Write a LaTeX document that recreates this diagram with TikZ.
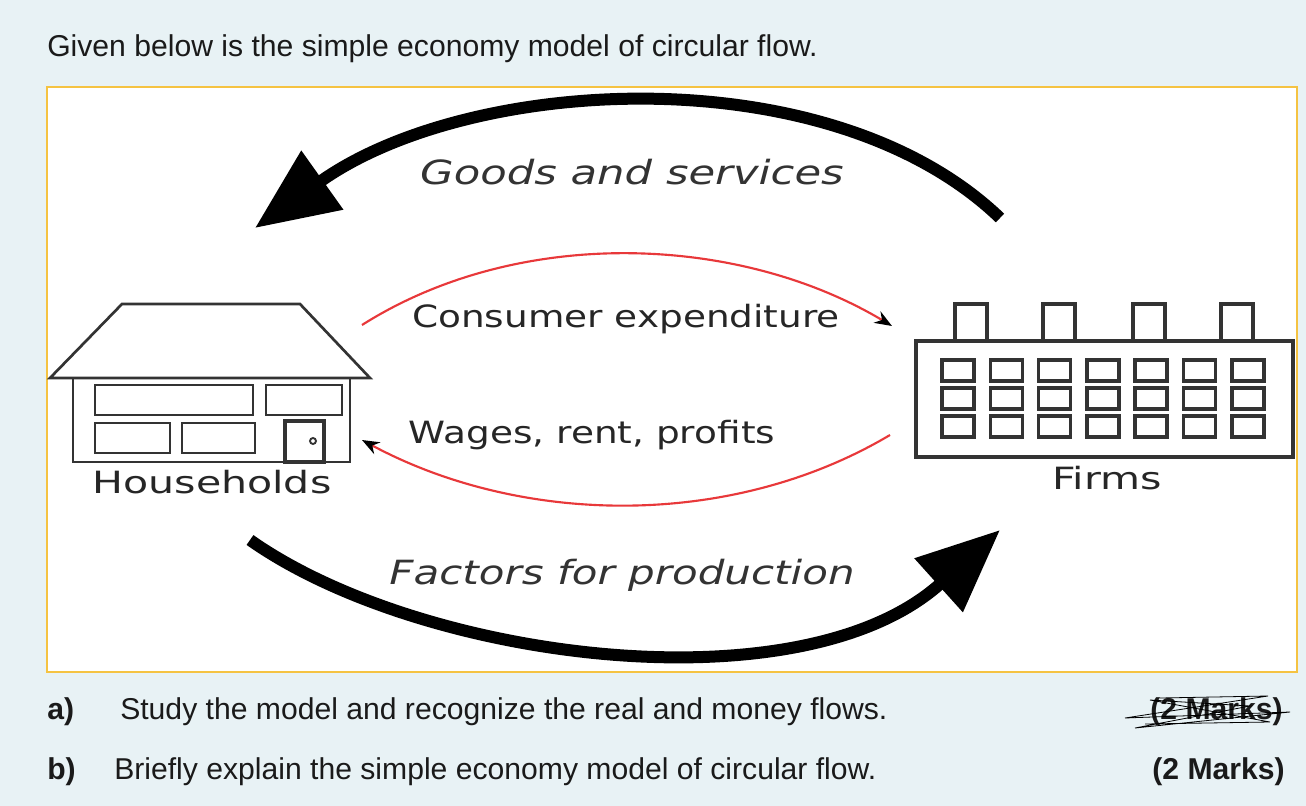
\documentclass[tikz,border=0pt]{standalone}
\usepackage{fontspec}
\setmainfont{Liberation Sans}
\newfontfamily\djfont{DejaVu Sans}
\usetikzlibrary{arrows.meta}
\definecolor{bgc}{HTML}{E8F2F5}
\definecolor{frm}{HTML}{F5C342}
\definecolor{rl}{HTML}{E8383A}
\definecolor{txt}{HTML}{1A1A1A}
\begin{document}
\begin{tikzpicture}[x=0.75pt,y=-0.75pt,
  ln/.style={line width=2pt,black!80},
  lbl/.style={font=\djfont\fontsize{23}{26}\selectfont,text=black!85,inner sep=0pt},
  ilbl/.style={font=\djfont\itshape\fontsize{25}{28}\selectfont,text=black!80,inner sep=0pt},
  big/.style={line width=9pt,-{Triangle[length=62pt,width=52pt]}},
  red/.style={rl,line width=1.6pt,-{Stealth[length=13pt,width=10pt,black]}},
  qt/.style={font=\fontsize{22.6}{26}\selectfont,text=txt,anchor=base west,inner sep=0pt},
  qb/.style={font=\bfseries\fontsize{22.6}{26}\selectfont,text=txt,anchor=base west,inner sep=0pt}]
\fill[bgc] (0,0) rectangle (1306,806);
\useasboundingbox (0,0) rectangle (1306,806);
\draw[frm,fill=white,line width=1pt] (47,87) rectangle (1297,672);
\node[qt] (hdr) at (47,57) {Given below is the simple economy model of circular flow.};
% house
\draw[ln] (122,304) -- (300,304) -- (370,378) -- (50,378) -- cycle;
\draw[ln] (73,378) rectangle (350,462);
\draw[ln] (95,385) rectangle (253,415);
\draw[ln] (266,385) rectangle (342,415);
\draw[ln] (95,423) rectangle (170,453);
\draw[ln] (182,423) rectangle (255,453);
\draw[ln,line width=2.4pt] (285,421) rectangle (324,462);
\draw[ln,line width=1.4pt] (313,441) circle (3);
\node[lbl] (hh) at (212,482) {\scalebox{1.34}[1]{Households}};
% factory
\foreach \cx in {955,1043,1133,1221}{\draw[ln,line width=2.4pt] (\cx,341) -- (\cx,304) -- (\cx+32,304) -- (\cx+32,341);}
\draw[ln,line width=2.8pt] (916,341) rectangle (1293,457);
\foreach \i in {0,...,6}{\foreach \ry in {360,388,416}{
  \draw[ln,line width=2.6pt] (942+48.3*\i,\ry) rectangle ++(32,21);}}
\node[lbl] (fm) at (1107,478) {\scalebox{1.34}[1]{Firms}};
% flows
\coordinate (gs) at (1000,218); \coordinate (ge) at (255,228);
\draw[big] (gs) .. controls (830,55) and (470,75) .. (ge);
\coordinate (fs) at (250,540); \coordinate (fe) at (1000,530);
\draw[big] (fs) .. controls (420,660) and (800,710) .. (fe);
\node[ilbl] (g) at (632,172) {\scalebox{1.3}[1]{Goods and services}};
\node[ilbl] (f) at (622,575) {\scalebox{1.26}[1]{Factors for production}};
\coordinate (c1) at (362,325); \coordinate (c2) at (892,326);
\draw[red] (c1) .. controls (520,225) and (740,235) .. (c2);
\coordinate (w1) at (890,435); \coordinate (w2) at (362,440);
\draw[red] (w1) .. controls (730,530) and (520,525) .. (w2);
\node[lbl] (ce) at (626,319) {\scalebox{1.22}[1]{Consumer expenditure}};
\node[lbl] (wr) at (592,435) {\scalebox{1.22}[1]{Wages, rent, profits}};
% questions
\node[qb] (a) at (47,719) {a)};
\node[qt] (at) at (120,719) {Study the model and recognize the real and money flows.};
\node[qb] (b) at (47,779) {b)};
\node[qt] (bt) at (114,779) {Briefly explain the simple economy model of circular flow.};
\node[qb,anchor=base east] (m1) at (1283,719) {(2 Marks)};
\node[qb,anchor=base east] (m2) at (1285,779) {(2 Marks)};
\draw[black,line width=0.6pt] (1160,698) -- (1268,696) -- (1125,718) -- (1290,712) -- (1135,728) -- (1250,706) -- (1150,700) -- (1270,722) -- (1145,724);
\end{tikzpicture}
\end{document}
